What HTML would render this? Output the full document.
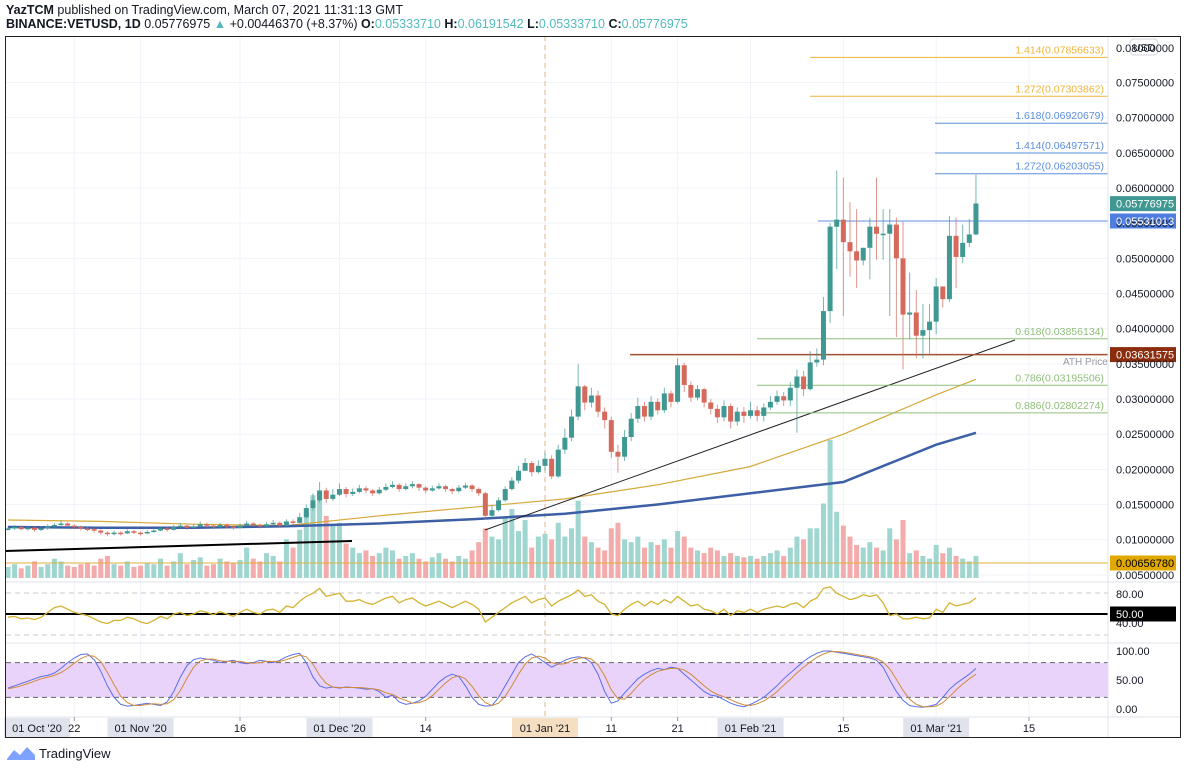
<!DOCTYPE html>
<html><head><meta charset="utf-8"><style>
body{margin:0;background:#fff;width:1186px;height:768px;overflow:hidden;font-family:"Liberation Sans",sans-serif}
#hdr1{position:absolute;left:6px;top:3px;font-size:12.5px;color:#131722}
#hdr2{position:absolute;left:6px;top:17px;font-size:12.5px;color:#131722}
#hdr1 b,#hdr2 b{font-weight:bold}
.v{color:#53b9c0}
#foot{position:absolute;left:6px;top:745px;font-size:13px;color:#131722;display:flex;align-items:center;gap:3px}
svg{position:absolute;left:0;top:0}
</style></head><body>
<div id="hdr1"><b>YazTCM</b> published on TradingView.com, March 07, 2021 11:31:13 GMT</div>
<div id="hdr2"><b>BINANCE:VETUSD, 1D</b> 0.05776975 <span style="color:#53b9c0">▲</span> +0.00446370 (+8.37%) <b>O:</b><span class="v">0.05333710</span> <b>H:</b><span class="v">0.06191542</span> <b>L:</b><span class="v">0.05333710</span> <b>C:</b><span class="v">0.05776975</span></div>
<svg id="c" width="1186" height="768"></svg>
<div id="foot"><svg width="30" height="16" style="position:static"><path d="M1 14 L8 5 L14 10 L21 2 L29 10 L29 15 L1 15Z" fill="#2962ff" opacity="0.6"/></svg>TradingView</div>
<script>
// ---- data (price in 0.001 units) ----
const closes=[11.6,11.8,11.5,11.7,11.4,11.6,11.9,12.1,12.3,12.0,11.8,11.6,11.5,11.3,11.0,10.8,11.0,10.9,11.2,11.0,
10.9,11.1,11.3,11.6,11.4,11.8,12.0,11.7,11.9,12.2,12.0,11.8,12.1,11.9,11.7,12.0,12.3,12.1,11.9,12.2,12.4,12.0,12.6,12.4,13.2,14.5,15.6,17.0,15.8,16.4,
17.2,16.5,16.8,17.3,17.0,16.6,17.1,17.5,17.8,17.2,17.6,17.9,17.4,17.0,17.3,17.6,17.2,16.9,17.4,17.7,17.2,16.6,13.4,14.2,15.6,17.2,18.4,19.8,20.9,19.6,20.5,
21.5,19.0,22.8,24.5,27.5,31.8,29.5,30.5,28.2,27.0,22.5,21.8,24.6,27.2,29.0,27.5,29.6,28.4,30.8,29.6,34.8,32.0,30.2,31.4,29.5,28.6,27.4,29.0,26.8,28.2,27.6,
28.4,27.6,28.8,29.6,30.4,29.8,31.6,33.2,31.4,35.2,35.6,42.5,54.5,55.5,52.3,51.0,49.7,51.5,54.5,53.5,53.5,54.8,50.0,42.0,42.3,39.0,39.8,41.0,
46.0,44.2,53.2,50.2,52.2,53.4,57.8];
const highs=[11.9,12.1,12.0,11.9,11.9,11.9,12.2,12.4,12.7,12.5,12.2,12.0,11.9,11.7,11.5,11.2,11.3,11.2,11.5,11.4,
11.2,11.4,11.6,11.9,11.8,12.1,12.4,12.1,12.2,12.6,12.4,12.2,12.4,12.3,12.0,12.3,12.7,12.5,12.3,12.5,12.8,12.6,12.9,12.9,13.8,15.0,16.6,18.2,17.4,17.2,
18.0,17.5,17.3,17.8,17.6,17.2,17.5,18.0,18.3,18.0,18.0,18.3,18.0,17.6,17.7,18.0,17.8,17.4,17.8,18.1,17.9,17.4,16.8,14.9,16.0,17.6,18.9,20.5,21.6,21.2,21.3,
22.4,22.0,23.5,25.8,28.5,35.0,32.0,31.6,31.2,28.8,27.5,23.5,25.6,28.0,30.2,29.6,30.4,30.1,31.6,31.2,35.8,35.2,32.5,32.0,31.6,30.0,29.2,29.8,29.4,28.8,28.9,
29.6,29.0,29.4,30.4,31.2,31.0,32.4,34.2,34.0,36.8,37.2,44.5,55.0,62.5,61.5,58.0,57.0,51.5,55.8,61.5,57.0,57.0,55.8,55.2,48.0,45.5,43.5,43.5,
47.2,45.2,56.0,55.8,54.8,55.6,61.9];
const lows=[11.3,11.4,11.3,11.3,11.1,11.2,11.4,11.7,11.9,11.8,11.5,11.3,11.2,11.0,10.7,10.5,10.6,10.6,10.8,10.8,
10.6,10.8,11.0,11.2,11.1,11.3,11.6,11.4,11.5,11.8,11.7,11.5,11.7,11.6,11.4,11.6,11.9,11.8,11.6,11.8,12.0,11.7,11.9,12.1,12.3,13.0,14.2,15.3,15.2,15.5,
16.2,16.0,16.2,16.6,16.6,16.2,16.4,16.9,17.3,16.8,17.0,17.3,16.9,16.6,16.8,17.1,16.8,16.5,16.7,17.2,16.8,16.2,12.8,13.1,14.0,15.4,17.0,18.0,19.8,19.0,19.4,
19.8,18.6,18.8,22.2,24.0,27.0,28.4,28.8,27.4,25.8,21.6,19.5,21.2,24.0,26.6,26.8,27.0,27.8,28.0,28.8,29.4,31.0,29.6,29.8,28.8,27.8,26.6,26.8,25.8,26.2,26.6,
27.2,26.8,26.8,28.4,29.2,29.0,29.0,25.2,30.4,31.2,34.6,34.8,40.8,48.5,41.8,47.4,45.8,49.0,47.0,49.8,49.8,41.8,38.8,34.2,38.5,35.8,35.8,36.2,
39.2,43.0,43.8,45.8,49.3,51.6,53.3];
const volumes=[8,10,7,9,12,8,10,14,12,9,8,10,11,9,14,16,10,9,12,8,
9,11,10,14,9,12,18,10,13,15,9,10,14,12,11,13,22,14,12,18,16,12,28,22,35,48,60,62,45,38,
40,25,22,18,20,16,18,22,20,14,16,18,14,12,15,18,14,12,16,14,20,26,36,30,28,44,50,34,42,22,30,
32,28,40,30,36,56,30,26,22,20,36,40,28,26,30,22,26,24,28,22,34,30,22,20,18,22,20,16,18,16,15,
16,14,16,18,20,16,22,30,28,36,36,54,100,48,38,30,24,22,26,22,20,36,28,42,18,20,16,14,
24,18,22,16,14,12,16];
const maDays=[0,14,28,42,56,70,84,98,112,126,140,146];
const ma50=[12.8,12.6,12.2,12.0,13.4,14.6,15.8,17.8,20.4,25.0,30.6,32.8];
const ma200=[11.8,11.7,11.7,11.9,12.3,12.9,13.7,15.0,16.6,18.2,23.5,25.2];
const rsi=[46,47,44,45,43,46,52,58,60,56,52,50,48,44,40,38,42,42,46,44,
40,38,42,47,44,50,52,48,50,54,52,49,53,50,47,52,56,52,50,55,56,52,60,58,66,72,76,82,72,74,
76,66,66,68,64,62,66,70,72,64,68,70,64,60,63,66,62,58,62,66,62,56,40,46,52,58,64,68,72,64,68,
70,60,66,70,74,80,72,74,66,62,50,48,56,62,66,60,66,62,68,64,72,66,60,62,56,54,50,56,48,54,52,
56,52,56,58,60,58,62,64,58,66,70,82,84,76,72,68,70,74,72,74,64,48,50,44,44,46,44,45,
56,52,64,60,62,64,70];
const stochK=[36,40,44,48,52,56,58,62,70,80,88,94,95,85,65,40,20,8,5,6,8,10,8,6,12,30,55,75,85,88,
86,84,80,82,84,80,78,80,84,82,80,84,90,94,96,80,55,40,36,38,36,38,37,36,34,35,30,20,24,12,8,
10,14,22,34,46,55,60,56,40,20,8,5,6,20,40,60,80,90,95,88,80,72,78,84,88,90,88,80,60,30,
10,14,28,40,52,60,66,70,68,72,70,60,50,40,30,24,22,16,10,6,4,8,14,20,30,40,52,62,72,82,90,
96,100,100,98,96,94,92,90,88,84,72,50,30,15,6,4,3,5,8,20,34,44,52,60,70];
const stochD=[35,37,40,44,48,52,55,58,63,70,79,87,92,91,82,63,42,22,11,6,6,8,9,8,9,16,32,53,72,83,
86,86,83,82,82,82,80,79,80,82,82,82,85,89,93,90,77,58,44,38,37,37,37,37,36,35,33,28,25,19,15,
10,11,15,23,34,45,54,57,52,39,23,11,6,10,22,40,60,77,88,91,88,80,77,78,83,87,89,86,76,57,
33,18,17,27,40,51,59,65,68,70,70,67,60,50,40,31,25,21,16,11,7,6,9,14,21,30,41,51,62,72,81,
89,95,99,99,98,96,94,92,90,87,81,69,51,32,17,8,4,4,5,11,21,33,43,52,60];
const priceTicks=[5,10,15,20,25,30,35,40,45,50,55,60,65,70,75];
const dateTicks=[{d:-11,t:"01 Oct '20",box:1,x0:8},{d:10,t:"22"},{d:20,t:"01 Nov '20",box:1},{d:35,t:"16"},{d:50,t:"01 Dec '20",box:1},{d:63,t:"14"},{d:81,t:"01 Jan '21",box:2},{d:91,t:"11"},{d:101,t:"21"},{d:112,t:"01 Feb '21",box:1},{d:126,t:"15"},{d:140,t:"01 Mar '21",box:1},{d:154,t:"15"}];
const fibs=[{p:78.56633,l:"1.414(0.07856633)",c:"#f0b43c",x:810},{p:73.03862,l:"1.272(0.07303862)",c:"#f0b43c",x:810},
{p:69.20679,l:"1.618(0.06920679)",c:"#5b8fdc",x:935},{p:64.97571,l:"1.414(0.06497571)",c:"#5b8fdc",x:935},{p:62.03055,l:"1.272(0.06203055)",c:"#5b8fdc",x:935},
{p:38.56134,l:"0.618(0.03856134)",c:"#8fbf7a",x:757},{p:31.95506,l:"0.786(0.03195506)",c:"#8fbf7a",x:757},{p:28.02274,l:"0.886(0.02802274)",c:"#8fbf7a",x:757}];

// ---- axes ----
const X=d=>545+(d-81)*6.63;
const Y=p=>188+(60-p)/5*35.17;
const VY=v=>578-v*1.38;
const RY=v=>614-(v-50)*0.8;
const SY=v=>709-v*0.58;
const R=1108;
const svg=document.getElementById('c');
const NS='http://www.w3.org/2000/svg';
function mk(tag,at,parent){const e=document.createElementNS(NS,tag);for(const k in at)e.setAttribute(k,at[k]);(parent||svg).appendChild(e);return e;}
function txt(x,y,s,at){const e=mk('text',Object.assign({x:x,y:y,'font-size':11,fill:'#131722','font-family':'Liberation Sans, sans-serif'},at||{}));e.textContent=s;return e;}

// grid
const grid=mk('g',{});


priceTicks.forEach(p=>mk('line',{x1:6,x2:R,y1:Y(p),y2:Y(p),stroke:'#f0f3fa'},grid));
dateTicks.forEach(t=>{if(t.d>=0)mk('line',{x1:X(t.d),x2:X(t.d),y1:36,y2:717,stroke:'#f0f3fa'},grid);});
mk('line',{x1:545,x2:545,y1:36,y2:717,stroke:'#d9b98a','stroke-dasharray':'5,4'});

// volume
const vg=mk('g',{});


volumes.forEach((v,i)=>{const o=i?closes[i-1]:closes[0];const up=closes[i]>=o;
 const r=mk('rect',{x:X(i)-2.5,y:VY(v),width:5,height:578-VY(v),fill:up?'#9fd6cf':'#f4abab'},vg);
 });
mk('line',{x1:6,x2:R,y1:563,y2:563,stroke:'#e0b23a','stroke-width':1});

// moving averages
function pathFrom(xs,ys){return xs.map((x,i)=>(i?'L':'M')+X(x).toFixed(1)+' '+Y(ys[i]).toFixed(1)).join(' ');}
const m1=mk('path',{d:pathFrom(maDays,ma50),fill:'none',stroke:'#d4a93a','stroke-width':1.2});

const m2=mk('path',{d:pathFrom(maDays,ma200),fill:'none',stroke:'#3d5fa6','stroke-width':2.5});


// drawings
const bl=mk('line',{x1:5,y1:551,x2:352,y2:541,stroke:'#000','stroke-width':2});

const tl=mk('line',{x1:485,y1:530,x2:1015,y2:340,stroke:'#222','stroke-width':1});

const ath=mk('line',{x1:630,x2:R,y1:Y(36.31575),y2:Y(36.31575),stroke:'#a0522d','stroke-width':1.5});

txt(1063,365,'ATH Price',{fill:'#9598a1','font-size':10});
const bh=mk('line',{x1:818,x2:R,y1:Y(55.31013),y2:Y(55.31013),stroke:'#5b8fdc','stroke-width':1});

fibs.forEach(f=>{const g=mk('g',{});
 mk('line',{x1:f.x,x2:R,y1:Y(f.p),y2:Y(f.p),stroke:f.c,'stroke-width':1},g);
 txt(1104,Y(f.p)-4,f.l,{fill:f.c,'text-anchor':'end','font-size':10.5},g);});

// candles
const cg=mk('g',{});


closes.forEach((c,i)=>{const o=i?closes[i-1]:c;const up=c>=o;const col=up?'#3f9891':'#d4695c';const x=X(i);
 const g=mk('g',{},cg);
 mk('line',{x1:x,x2:x,y1:Y(highs[i]),y2:Y(lows[i]),stroke:col,'stroke-width':1,opacity:0.7},g);
 const t=Y(Math.max(o,c)),b=Y(Math.min(o,c));
 mk('rect',{x:x-2.5,y:t,width:5,height:Math.max(1.5,b-t),fill:col},g);});

// RSI pane
mk('line',{x1:6,x2:1181,y1:582,y2:582,stroke:'#e0e3eb'});
mk('line',{x1:6,x2:R,y1:593,y2:593,stroke:'#c8c8c8','stroke-dasharray':'5,4'});
mk('line',{x1:6,x2:R,y1:635,y2:635,stroke:'#c8c8c8','stroke-dasharray':'5,4'});
mk('line',{x1:6,x2:R,y1:614,y2:614,stroke:'#000','stroke-width':2});
const rp=mk('path',{d:rsi.map((v,i)=>(i?'L':'M')+X(i).toFixed(1)+' '+RY(v).toFixed(1)).join(' '),fill:'none',stroke:'#d4b232','stroke-width':1.3});


// Stoch pane
mk('line',{x1:6,x2:1181,y1:643,y2:643,stroke:'#e0e3eb'});
const band=mk('rect',{x:6,y:SY(80),width:R-6,height:SY(20)-SY(80),fill:'#e9d3fb'});

mk('line',{x1:6,x2:R,y1:SY(80),y2:SY(80),stroke:'#666','stroke-dasharray':'5,4'});
mk('line',{x1:6,x2:R,y1:SY(20),y2:SY(20),stroke:'#666','stroke-dasharray':'5,4'});
const kp=mk('path',{d:stochK.map((v,i)=>(i?'L':'M')+X(i).toFixed(1)+' '+SY(v).toFixed(1)).join(' '),fill:'none',stroke:'#5b6ee8','stroke-width':1});

const dp=mk('path',{d:stochD.map((v,i)=>(i?'L':'M')+X(i).toFixed(1)+' '+SY(v).toFixed(1)).join(' '),fill:'none',stroke:'#d08a3a','stroke-width':1});


// time axis
mk('line',{x1:6,x2:1181,y1:717,y2:717,stroke:'#e0e3eb'});
const tg=mk('g',{});


dateTicks.forEach(t=>{let x=t.x0!==undefined?t.x0+29:X(t.d);
 if(t.box){const w=t.t.length*6+6;mk('rect',{x:x-w/2,y:718,width:w,height:19,fill:t.box==2?'#f5dfc0':'#e0e3eb'},tg);}
 else mk('line',{x1:x,x2:x,y1:717,y2:721,stroke:'#999'},tg);
 txt(x,732,t.t,{'text-anchor':'middle'},tg);});

// price axis
mk('line',{x1:R,x2:R,y1:36,y2:737,stroke:'#e0e3eb'});
const pg=mk('g',{});


priceTicks.forEach(p=>txt(1116,Y(p)+4,(p/1000).toFixed(8),{},pg));
txt(1116,52,'0.08000000',{},pg);
mk('rect',{x:1130,y:39,width:28,height:16,rx:4,fill:'#fff',stroke:'#d1d4dc'},pg);
txt(1144,51,'USD',{'text-anchor':'middle','font-size':10.5},pg);
function tag(p,s,bg,fg,y){const yy=y!==undefined?y:Y(p);mk('rect',{x:1110,y:yy-7.5,width:66,height:15,fill:bg},pg);txt(1116,yy+4,s,{fill:fg},pg);}
tag(57.776975,'0.05776975','#3f9891','#fff');
tag(55.31013,'0.05531013','#4f7ee0','#fff');
tag(36.31575,'0.03631575','#8b2c0c','#fff');
tag(0,'0.00656780','#e0a800','#000',563);
txt(1116,598,'80.00',{},pg);txt(1116,627,'40.00',{},pg);
tag(0,'50.00','#000','#fff',614);
txt(1116,655,'100.00',{},pg);txt(1116,684,'50.00',{},pg);txt(1116,713,'0.00',{},pg);

// frame
mk('rect',{x:5.5,y:36.5,width:1175,height:701,fill:'none',stroke:'#222'});
</script>
</body></html>
